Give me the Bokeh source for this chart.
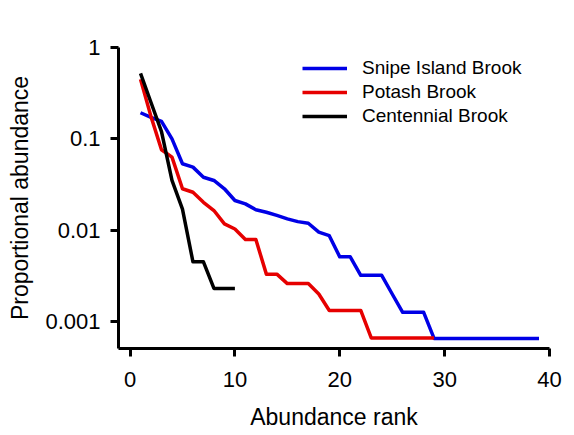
from bokeh.plotting import figure
from bokeh.models import Range1d, FixedTicker, CustomJSTickFormatter, Legend, LegendItem
from bokeh.embed import file_html
from bokeh.resources import INLINE

# rank-abundance values
snipe_rank = list(range(1, 40))
snipe = [0.193, 0.172, 0.155, 0.100, 0.0533, 0.049, 0.038, 0.035, 0.0284, 0.0211,
         0.0194, 0.0167, 0.0157, 0.0145, 0.0133, 0.0124, 0.0119, 0.0095, 0.0087, 0.0051,
         0.0051, 0.0032, 0.0032, 0.0032, 0.0020, 0.00126, 0.00126, 0.00126, 0.00065, 0.00065,
         0.00065, 0.00065, 0.00065, 0.00065, 0.00065, 0.00065, 0.00065, 0.00065, 0.00065]

potash_rank = list(range(1, 30))
potash = [0.45, 0.175, 0.076, 0.063, 0.0284, 0.026, 0.0202, 0.0164, 0.0117, 0.0103,
          0.0079, 0.0079, 0.0033, 0.0033, 0.0026, 0.0026, 0.0026, 0.0020, 0.00132, 0.00132,
          0.00132, 0.00132, 0.00066, 0.00066, 0.00066, 0.00066, 0.00066, 0.00066, 0.00066]

cent_rank = list(range(1, 11))
centennial = [0.52, 0.25, 0.12, 0.035, 0.017, 0.0045, 0.0045, 0.0023, 0.0023, 0.0023]

names = ["Snipe Island Brook", "Potash Brook", "Centennial Brook"]
colors = ["#0000e6", "#e60000", "#000000"]

x_ticks = [0, 10, 20, 30, 40]
y_ticks = [0.001, 0.01, 0.1, 1]

FONT = "Liberation Sans"

p = figure(width=568, height=434, y_axis_type="log",
           x_range=Range1d(-1.1, 40), y_range=Range1d(0.000506, 1),
           output_backend="svg", toolbar_location=None,
           min_border_left=118, min_border_right=19,
           min_border_top=47, min_border_bottom=86)
p.outline_line_color = None
p.grid.grid_line_color = None

r_snipe = p.line(snipe_rank, snipe, line_color=colors[0], line_width=3.5, line_join="round")
r_potash = p.line(potash_rank, potash, line_color=colors[1], line_width=3.5, line_join="round")
r_cent = p.line(cent_rank, centennial, line_color=colors[2], line_width=3.5, line_join="round")

for ax in (p.xaxis[0], p.yaxis[0]):
    ax.axis_line_width = 3
    ax.axis_line_color = "black"
    ax.major_tick_line_width = 3
    ax.major_tick_line_color = "black"
    ax.major_tick_out = 8
    ax.major_tick_in = 0
    ax.minor_tick_line_color = None
    ax.major_label_text_font = FONT
    ax.major_label_text_font_size = "22px"
    ax.major_label_text_color = "black"
    ax.axis_label_text_font = FONT
    ax.axis_label_text_font_size = "23px"
    ax.axis_label_text_font_style = "normal"
    ax.axis_label_text_color = "black"

p.xaxis.ticker = FixedTicker(ticks=x_ticks)
p.xaxis.axis_label = "Abundance rank"
p.xaxis.major_label_standoff = 15
p.xaxis.axis_label_standoff = 14

p.yaxis.ticker = FixedTicker(ticks=y_ticks)
p.yaxis.formatter = CustomJSTickFormatter(code="return String(parseFloat(tick.toPrecision(3)));")
p.yaxis.axis_label = "Proportional abundance"
p.yaxis.major_label_standoff = 10
p.yaxis.axis_label_standoff = 9

legend = Legend(items=[LegendItem(label=names[0], renderers=[r_snipe]),
                       LegendItem(label=names[1], renderers=[r_potash]),
                       LegendItem(label=names[2], renderers=[r_cent])],
                location=(184, 221))
legend.border_line_color = None
legend.background_fill_alpha = 0
legend.margin = 0
legend.padding = 0
legend.spacing = 2
legend.glyph_width = 45
legend.glyph_height = 20
legend.label_height = 20
legend.label_standoff = 15
legend.label_text_font = FONT
legend.label_text_font_size = "19px"
legend.label_text_color = "black"
p.add_layout(legend)

open("out.html", "w").write(file_html(p, INLINE))
